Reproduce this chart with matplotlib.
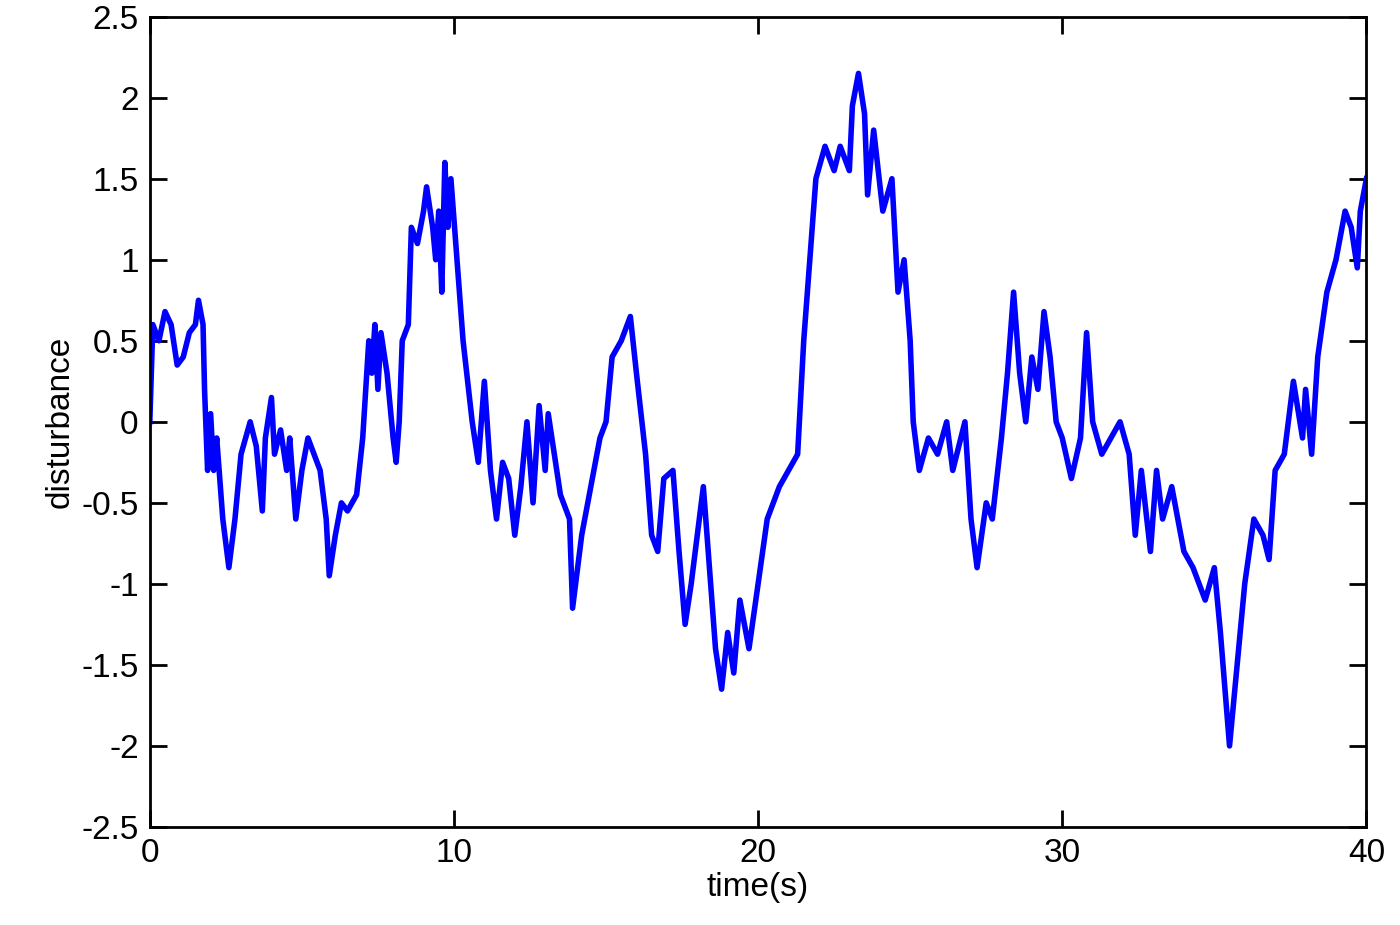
import matplotlib
matplotlib.use("Agg")
import matplotlib.pyplot as plt

samples = [
(0,0.0),(0.1,0.6),(0.3,0.5),(0.5,0.68),(0.7,0.6),(0.9,0.35),(1.1,0.4),(1.3,0.55),(1.5,0.6),(1.6,0.75),
(1.75,0.6),(1.8,0.2),(1.9,-0.3),(2.0,0.05),(2.1,-0.3),(2.2,-0.1),(2.4,-0.6),(2.6,-0.9),(2.8,-0.6),(3.0,-0.2),
(3.3,0.0),(3.5,-0.15),(3.7,-0.55),(3.8,-0.1),(4.0,0.15),(4.1,-0.2),(4.3,-0.05),(4.5,-0.3),(4.6,-0.1),(4.8,-0.6),
(5.0,-0.3),(5.2,-0.1),(5.4,-0.2),(5.6,-0.3),(5.8,-0.6),(5.9,-0.95),(6.1,-0.7),(6.3,-0.5),(6.5,-0.55),(6.8,-0.45),
(7.0,-0.1),(7.2,0.5),(7.3,0.3),(7.4,0.6),(7.5,0.2),(7.6,0.55),(7.8,0.3),(8.0,-0.1),(8.1,-0.25),(8.2,0.0),
(8.3,0.5),(8.5,0.6),(8.6,1.2),(8.8,1.1),(9.0,1.3),(9.1,1.45),(9.3,1.2),(9.4,1.0),(9.5,1.3),(9.6,0.8),
(9.7,1.6),(9.8,1.2),(9.9,1.5),(10.1,1.0),(10.3,0.5),(10.6,0.0),(10.8,-0.25),(11.0,0.25),(11.2,-0.3),(11.4,-0.6),
(11.6,-0.25),(11.8,-0.35),(12.0,-0.7),(12.2,-0.4),(12.4,0.0),(12.6,-0.5),(12.8,0.1),(13.0,-0.3),(13.1,0.05),(13.3,-0.2),
(13.5,-0.45),(13.8,-0.6),(13.9,-1.15),(14.2,-0.7),(14.5,-0.4),(14.8,-0.1),(15.0,0.0),(15.2,0.4),(15.5,0.5),(15.8,0.65),
(16.0,0.3),(16.3,-0.2),(16.5,-0.7),(16.7,-0.8),(16.9,-0.35),(17.2,-0.3),(17.4,-0.8),(17.6,-1.25),(17.8,-1.0),(18.0,-0.7),
(18.2,-0.4),(18.4,-0.9),(18.6,-1.4),(18.8,-1.65),(19.0,-1.3),(19.2,-1.55),(19.4,-1.1),(19.7,-1.4),(20.0,-1.0),(20.3,-0.6),
(20.7,-0.4),(21.0,-0.3),(21.3,-0.2),(21.5,0.5),(21.7,1.0),(21.9,1.5),(22.2,1.7),(22.5,1.55),(22.7,1.7),(23.0,1.55),
(23.1,1.95),(23.3,2.15),(23.5,1.9),(23.6,1.4),(23.8,1.8),(24.1,1.3),(24.4,1.5),(24.6,0.8),(24.8,1.0),(25.0,0.5),
(25.1,0.0),(25.3,-0.3),(25.6,-0.1),(25.9,-0.2),(26.2,0.0),(26.4,-0.3),(26.8,0.0),(27.0,-0.6),(27.2,-0.9),(27.5,-0.5),
(27.7,-0.6),(28.0,-0.1),(28.2,0.3),(28.4,0.8),(28.6,0.3),(28.8,0.0),(29.0,0.4),(29.2,0.2),(29.4,0.68),(29.6,0.4),
(29.8,0.0),(30.0,-0.1),(30.3,-0.35),(30.6,-0.1),(30.8,0.55),(31.0,0.0),(31.3,-0.2),(31.6,-0.1),(31.9,0.0),(32.2,-0.2),
(32.4,-0.7),(32.6,-0.3),(32.9,-0.8),(33.1,-0.3),(33.3,-0.6),(33.6,-0.4),(34.0,-0.8),(34.3,-0.9),(34.7,-1.1),(35.0,-0.9),
(35.2,-1.3),(35.5,-2.0),(35.7,-1.6),(36.0,-1.0),(36.3,-0.6),(36.6,-0.7),(36.8,-0.85),(37.0,-0.3),(37.3,-0.2),(37.6,0.25),
(37.9,-0.1),(38.0,0.2),(38.2,-0.2),(38.4,0.4),(38.7,0.8),(39.0,1.0),(39.3,1.3),(39.5,1.2),(39.7,0.95),(39.8,1.3),(40.0,1.5),
]
t = [p[0] for p in samples]
d = [p[1] for p in samples]

plt.rcParams['font.family'] = ['Liberation Sans', 'DejaVu Sans']
fig = plt.figure(figsize=(14, 9.25), dpi=100)
ax = fig.add_axes([0.107, 0.106, 0.869, 0.876])
ax.plot(t, d, color='#0000ff', lw=4)
ax.set_xlim(0, 40)
ax.set_ylim(-2.5, 2.5)
ax.set_xticks([0, 10, 20, 30, 40])
ax.set_yticks([-2.5, -2, -1.5, -1, -0.5, 0, 0.5, 1, 1.5, 2, 2.5])
ax.set_yticklabels(['-2.5', '-2', '-1.5', '-1', '-0.5', '0', '0.5', '1', '1.5', '2', '2.5'])
ax.tick_params(direction='in', length=12, width=2, labelsize=24, top=True, right=True, pad=8)
for s in ax.spines.values():
    s.set_linewidth(2)
ax.set_xlabel('time(s)', fontsize=24, labelpad=2)
ax.set_ylabel('disturbance', fontsize=24, labelpad=4)
fig.savefig('out.png', dpi=100)
